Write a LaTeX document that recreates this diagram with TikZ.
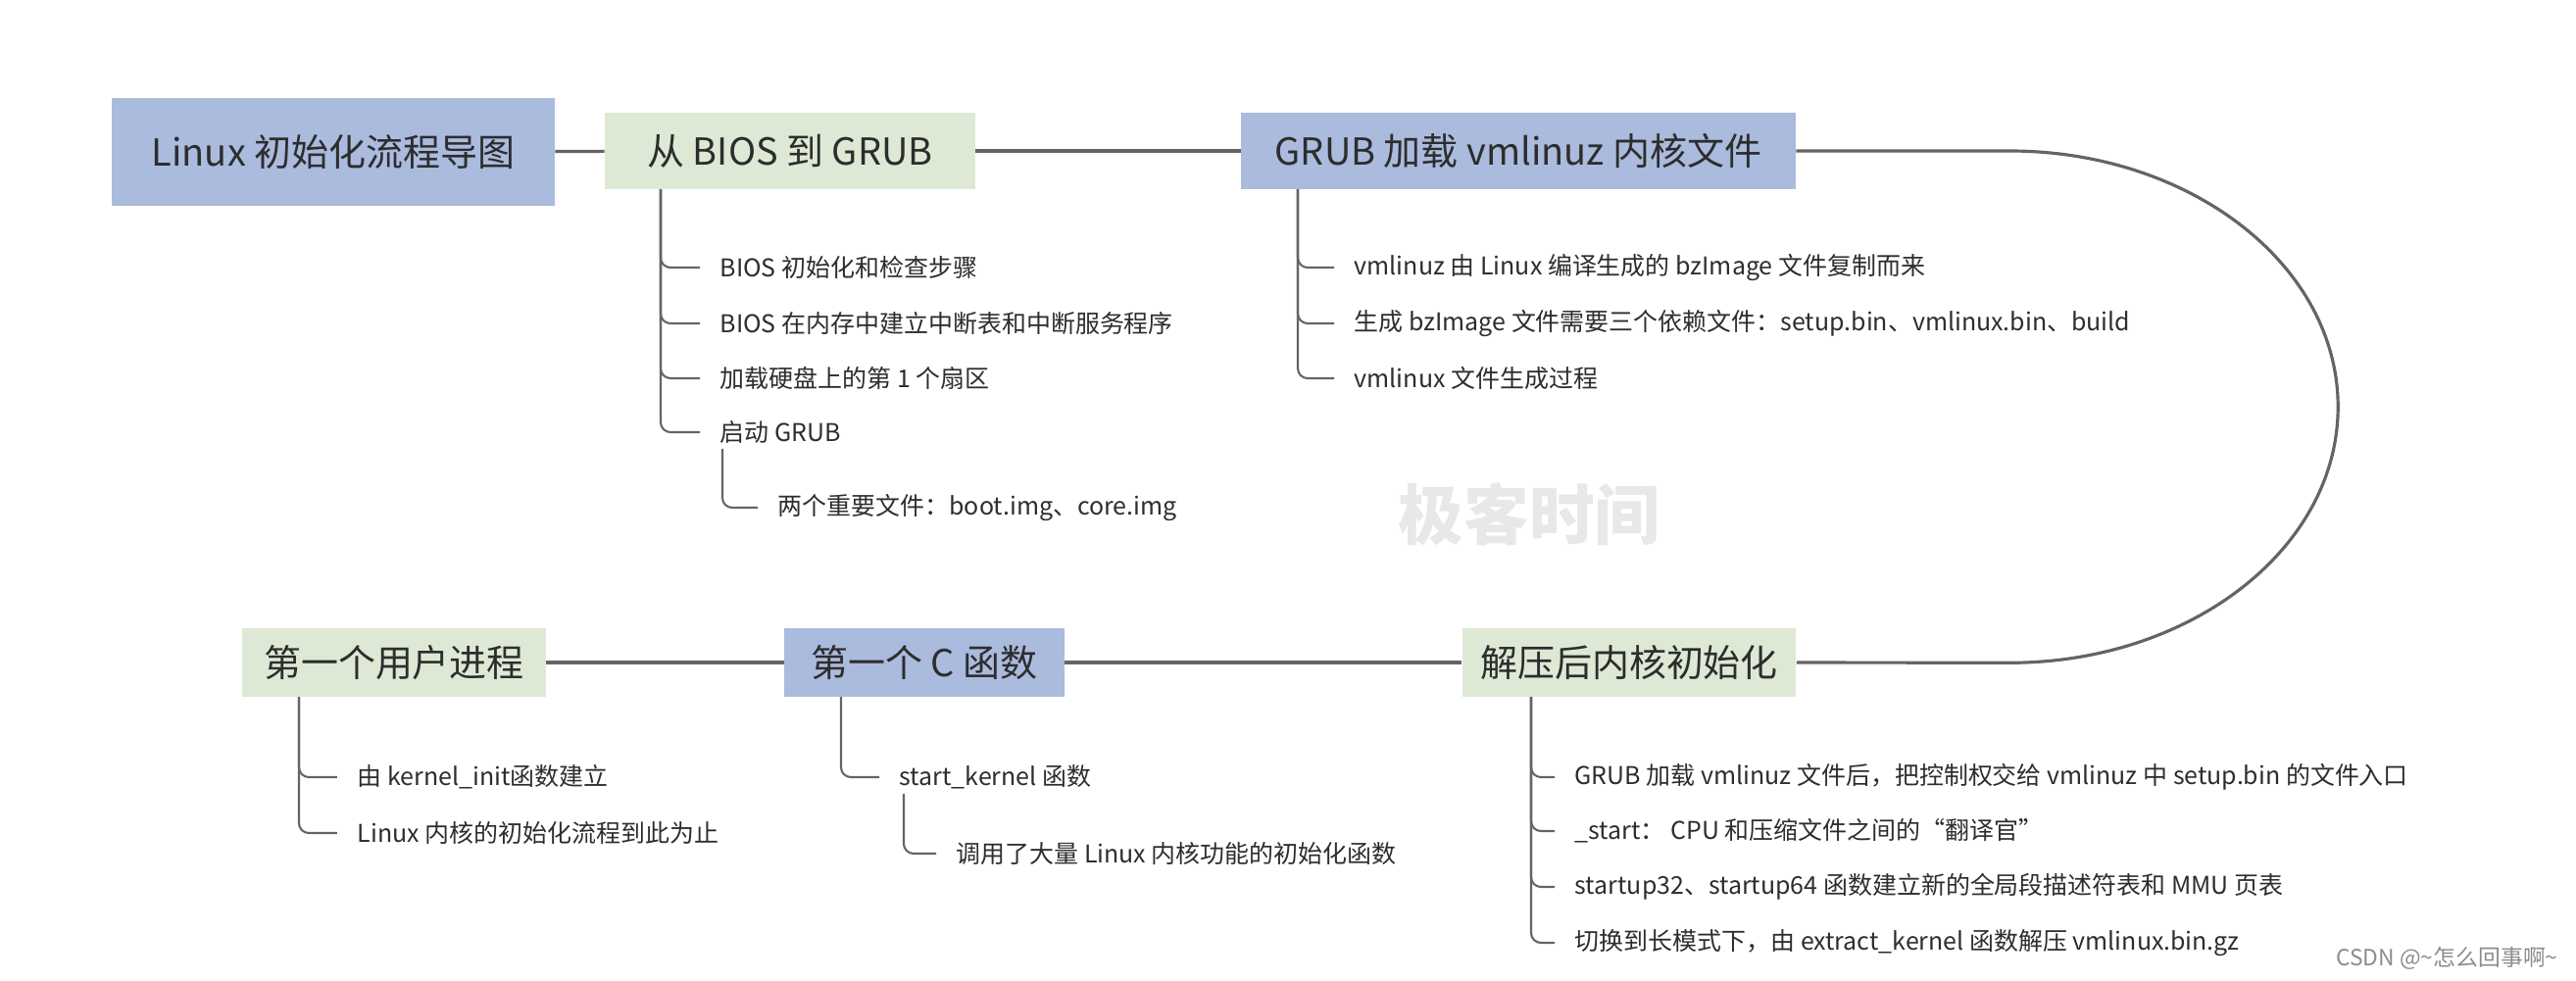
\documentclass[tikz,border=0pt]{standalone}
\usepackage{fontspec}
\setmainfont{Noto Sans CJK SC}
\usetikzlibrary{positioning}
\definecolor{topicblue}{RGB}{170,187,222}
\definecolor{topicgreen}{RGB}{221,233,213}
\definecolor{linegray}{RGB}{100,100,100}
\definecolor{textgray}{RGB}{45,45,45}

\begin{document}
\begin{tikzpicture}[x=0.01cm,y=-0.01cm]
    \tikzset{
      topic/.style={inner sep=0pt,text=textgray,font=\fontsize{10.8}{12}\selectfont,minimum height=0.72cm},
      blue/.style={topic,fill=topicblue},
      green/.style={topic,fill=topicgreen},
      item/.style={anchor=west,inner sep=0pt,text=textgray,font=\fontsize{7.1}{9}\selectfont},
      link/.style={draw=linegray,line width=0.9pt},
      branch/.style={draw=linegray,line width=0.6pt,rounded corners=0.1cm,shorten >=0.2cm}
    }
    \useasboundingbox (0,0) rectangle (2628,1000);

    % watermark
    \node[text=black!9,font=\fontsize{19}{21}\selectfont\bfseries] (mark) at (1560,525) {极客时间};
    \node[text=black!45,font=\fontsize{6.5}{8}\selectfont,anchor=east] (csdn) at (2622,978) {CSDN @\textasciitilde 怎么回事啊\textasciitilde};

    % main topics
    \node[blue,minimum width=4.51cm,minimum height=1.1cm] (root) at (340,155) {Linux 初始化流程导图};
    \node[green,minimum width=3.77cm,minimum height=0.77cm] (bios) at (806,154) {从 BIOS 到 GRUB};
    \node[blue,minimum width=5.65cm,minimum height=0.77cm] (grub) at (1549,154) {GRUB 加载 vmlinuz 内核文件};
    \node[green,minimum width=3.4cm,minimum height=0.69cm] (unzip) at (1662,676) {解压后内核初始化};
    \node[blue,minimum width=2.85cm,minimum height=0.69cm] (cfunc) at (943,676) {第一个 C 函数};
    \node[green,minimum width=3.09cm,minimum height=0.69cm] (user) at (402,676) {第一个用户进程};

    \coordinate (arcin) at (2050,154);
    \draw[link] (root) -- (bios);
    \draw[link] (bios) -- (grub);
    \draw[link] (grub) -- (arcin) arc[start angle=90,end angle=-90,x radius=3.35cm,y radius=2.61cm] -- (unzip.east);
    \draw[link] (unzip) -- (cfunc);
    \draw[link] (cfunc) -- (user);

    % BIOS items
    \coordinate (b0) at (674,193);
    \node[item] (b1) at (734,273) {BIOS 初始化和检查步骤};
    \node[item] (b2) at (734,330) {BIOS 在内存中建立中断表和中断服务程序};
    \node[item] (b3) at (734,386) {加载硬盘上的第 1 个扇区};
    \node[item] (b4) at (734,441) {启动 GRUB};
    \coordinate (b40) at (737,458);
    \node[item] (b41) at (793,518) {两个重要文件：boot.img、core.img};
    \foreach \i in {b1,b2,b3,b4} \draw[branch] (b0) |- (\i.west);
    \draw[branch] (b40) |- (b41.west);

    % GRUB items
    \coordinate (g0) at (1324,193);
    \node[item] (g1) at (1381,273) {vmlinuz 由 Linux 编译生成的 bzImage 文件复制而来};
    \node[item] (g2) at (1381,330) {生成 bzImage 文件需要三个依赖文件：setup.bin、vmlinux.bin、build};
    \node[item] (g3) at (1381,386) {vmlinux 文件生成过程};
    \foreach \i in {g1,g2,g3} \draw[branch] (g0) |- (\i.west);

    % unzip items
    \coordinate (u0) at (1562,711);
    \node[item] (u1) at (1606,793) {GRUB 加载 vmlinuz 文件后，把控制权交给 vmlinuz 中 setup.bin 的文件入口};
    \node[item] (u2) at (1606,848) {\_start： CPU 和压缩文件之间的“翻译官”};
    \node[item] (u3) at (1606,905) {startup32、startup64 函数建立新的全局段描述符表和 MMU 页表};
    \node[item] (u4) at (1606,962) {切换到长模式下，由 extract\_kernel 函数解压 vmlinux.bin.gz};
    \foreach \i in {u1,u2,u3,u4} \draw[branch] (u0) |- (\i.west);

    % C function items
    \coordinate (c0) at (858,711);
    \node[item] (c1) at (917,793) {start\_kernel 函数};
    \coordinate (c10) at (922,810);
    \node[item] (c11) at (975,871) {调用了大量 Linux 内核功能的初始化函数};
    \draw[branch] (c0) |- (c1.west);
    \draw[branch] (c10) |- (c11.west);

    % user process items
    \coordinate (p0) at (305,711);
    \node[item] (p1) at (364,793) {由 kernel\_init函数建立};
    \node[item] (p2) at (364,850) {Linux 内核的初始化流程到此为止};
    \foreach \i in {p1,p2} \draw[branch] (p0) |- (\i.west);
\end{tikzpicture}
\end{document}
